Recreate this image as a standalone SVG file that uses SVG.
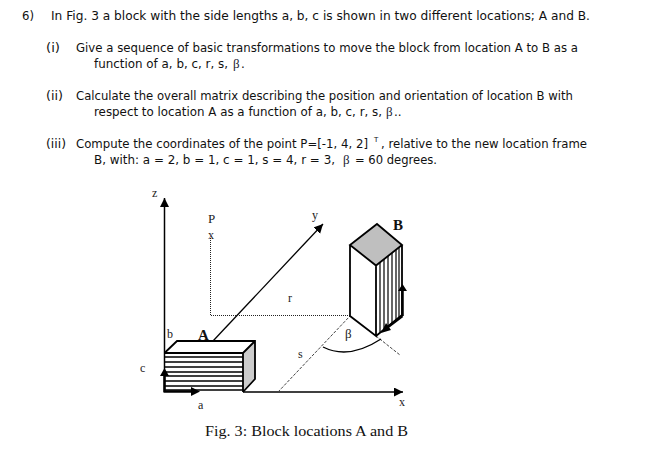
<svg xmlns="http://www.w3.org/2000/svg" width="667" height="450" viewBox="0 0 667 450">
<style>
.t{font-family:"DejaVu Sans","Noto Sans",sans-serif;font-size:12px;fill:#111}
.g{font-family:"Liberation Serif",serif;font-size:13px;fill:#223}
.s{font-family:"Liberation Serif",serif;fill:#111}
.l{font-size:12px;fill:#222}
.b{font-weight:bold;font-size:15px}
.k{stroke:#000;fill:none}
.d{stroke:#222;fill:none;stroke-width:1;stroke-dasharray:1 1}
.da{stroke:#444;fill:none;stroke-width:1;stroke-dasharray:3 1.5}
</style>
<defs>
<marker id="ah" markerUnits="userSpaceOnUse" markerWidth="10" markerHeight="10" refX="9" refY="4.5" orient="auto"><path d="M0 0L9 4.500L0 9Z" fill="#000"/></marker>
</defs>
<g id="question">
<text class="t" x="22" y="20" textLength="12" lengthAdjust="spacingAndGlyphs">6)</text>
<text class="t" x="51" y="20" textLength="539" lengthAdjust="spacingAndGlyphs">In Fig. 3 a block with the side lengths a, b, c is shown in two different locations; A and B.</text>
<text class="t" x="46" y="52" textLength="14" lengthAdjust="spacingAndGlyphs">(i)</text>
<text class="t" x="76" y="52" textLength="502" lengthAdjust="spacingAndGlyphs">Give a sequence of basic transformations to move the block from location A to B as a</text>
<text class="t" x="94" y="68" textLength="134" lengthAdjust="spacingAndGlyphs">function of a, b, c, r, s,</text>
<text class="g" x="233" y="68">β</text>
<text class="t" x="241" y="68">.</text>
<text class="t" x="46" y="100" textLength="17" lengthAdjust="spacingAndGlyphs">(ii)</text>
<text class="t" x="76" y="100" textLength="497" lengthAdjust="spacingAndGlyphs">Calculate the overall matrix describing the position and orientation of location B with</text>
<text class="t" x="94" y="116" textLength="288" lengthAdjust="spacingAndGlyphs">respect to location A as a function of a, b, c, r, s,</text>
<text class="g" x="386" y="116">β</text>
<text class="t" x="394" y="116">..</text>
<text class="t" x="46" y="148" textLength="20" lengthAdjust="spacingAndGlyphs">(iii)</text>
<text class="t" x="76" y="148" textLength="292" lengthAdjust="spacingAndGlyphs">Compute the coordinates of the point P=[-1, 4, 2]</text>
<text class="t" x="374" y="142" style="font-size:7px">T</text>
<text class="t" x="381" y="148" textLength="206" lengthAdjust="spacingAndGlyphs">, relative to the new location frame</text>
<text class="t" x="94" y="164" textLength="241" lengthAdjust="spacingAndGlyphs">B, with: a = 2, b = 1, c = 1, s = 4, r = 3,</text>
<text class="g" x="343" y="164">β</text>
<text class="t" x="355" y="164" textLength="82" lengthAdjust="spacingAndGlyphs">= 60 degrees.</text>
</g>
<g id="connectors">
<path class="k" stroke-width="1.500" d="M164.500 392V198" marker-end="url(#ah)"/>
<path class="k" stroke-width="1.500" d="M243 392H403" marker-end="url(#ah)"/>
<path class="k" stroke-width="1.300" d="M213 341L323 224" marker-end="url(#ah)"/>
<path class="d" d="M210.500 238V315.500H350"/>
<path class="da" d="M278 392L350 316"/>
<path class="da" d="M376 336L400 355"/>
<path class="k" stroke-width="1.300" d="M323 347Q349 360 381 339"/>
</g>
<g id="block-a">
<path d="M243 353L255 341V379L243 392Z" fill="#ccc"/>
<path class="k" stroke-width="1.300" d="M164.500 357H243M164.500 362H243M164.500 367H243M164.500 372H243M164.500 376H243M164.500 381H243M164.500 386H243M164.500 390H243"/>
<path class="k" stroke-width="1.800" d="M164.500 353H243V392M164.500 353L177 341H255V379L243 392M243 353L255 341"/>
<path class="k" stroke-width="2.500" d="M164.500 392V375M163.500 391.500H195"/>
<path d="M160 376L164.500 368L169 376Z M191 387L200 391.500L191 396Z" fill="#000"/>
</g>
<g id="block-b">
<path d="M377 224L402 245L376 265.500L350 245Z" fill="#bfbfbf"/>
<path class="k" stroke-width="1.200" d="M380 262V333M384 259V330M388 256V327M392 253V323M396 250V320M399 247V317"/>
<path class="k" stroke-width="1.800" d="M377 224L402 245L376 265.500L350 245ZM350 245V316L376 336V265.500M402 245V315L376 336"/>
<path class="k" stroke-width="2.500" d="M402.500 316V290M402.500 316L388 327"/>
<path d="M398 291L402.500 284L407 291Z M386 323L391 330L381 333Z" fill="#000"/>
</g>
<g id="labels" class="s">
<text class="s l" x="152" y="197">z</text>
<text class="s l" x="208" y="223" style="font-size:13px">P</text>
<text class="s l" x="208" y="239">x</text>
<text class="s l" x="312" y="219">y</text>
<text class="s b" x="393" y="230">B</text>
<text class="s l" x="288" y="302">r</text>
<text class="s l" x="167" y="338">b</text>
<text class="s b" x="198" y="340">A</text>
<text class="s l" x="345" y="338" style="font-size:13px">β</text>
<text class="s l" x="298" y="358">s</text>
<text class="s l" x="140" y="372">c</text>
<text class="s l" x="198" y="409">a</text>
<text class="s l" x="399" y="406">x</text>
<text class="s" x="205" y="436" font-size="15" textLength="203" lengthAdjust="spacingAndGlyphs">Fig. 3: Block locations A and B</text>
</g>
</svg>
